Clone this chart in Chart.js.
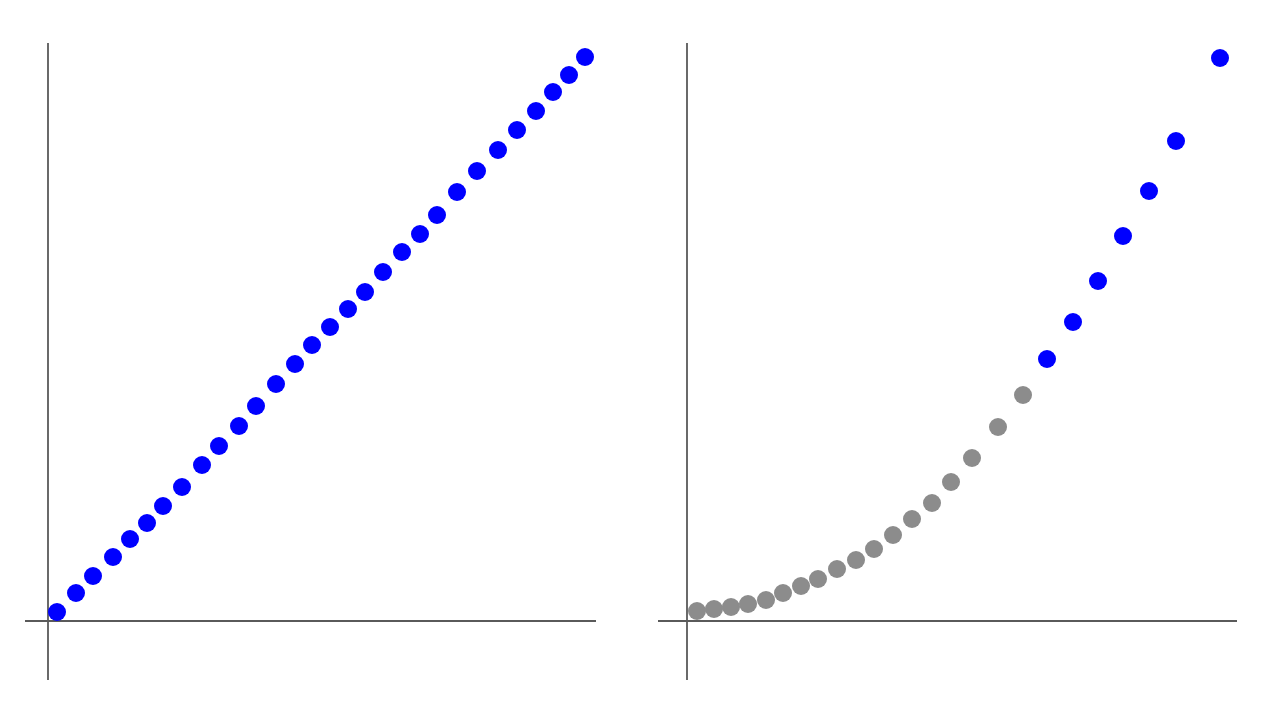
<!DOCTYPE html>
<html>
<head>
<meta charset="utf-8">
<script src="https://cdn.jsdelivr.net/npm/chart.js@4"></script>
<style>
  html, body { margin: 0; padding: 0; background: #ffffff; }
  body { width: 1280px; height: 720px; position: relative; overflow: hidden; }
  .wrap { position: absolute; }
  #w1 { left: 25px; top: 43px; width: 571px; height: 637px; }
  #w2 { left: 658px; top: 43px; width: 579px; height: 637px; }
</style>
</head>
<body>
<div class="wrap" id="w1"><canvas id="c1"></canvas></div>
<div class="wrap" id="w2"><canvas id="c2"></canvas></div>
<script>
// Left panel: linear series
const leftX = [9, 28, 45, 65, 82, 99, 115, 134, 154, 171, 191, 208, 228, 247, 264, 282, 300, 317, 335, 354, 372, 389, 409, 429, 450, 469, 488, 505, 521, 537];
const leftY = [9, 28, 45, 64, 82, 98, 115, 134, 156, 175, 195, 215, 237, 257, 276, 294, 312, 329, 349, 369, 387, 406, 429, 450, 471, 491, 510, 529, 546, 564];

// Right panel: curved series, grey part then blue part
const rightGreyX = [10, 27, 44, 61, 79, 96, 114, 131, 150, 169, 187, 206, 225, 245, 264, 285, 311, 336];
const rightGreyY = [10, 12, 14, 17, 21, 28, 35, 42, 52, 61, 72, 86, 102, 118, 139, 163, 194, 226];
const rightBlueX = [360, 386, 411, 436, 462, 489, 533];
const rightBlueY = [262, 299, 340, 385, 430, 480, 563];

// Axis ranges
const leftXRange = [-23, 548];
const rightXRange = [-29, 550];
const yRange = [-59, 578];

function pts(xs, ys) { return xs.map((x, i) => ({ x: x, y: ys[i] })); }

const originAxes = {
  id: 'originAxes',
  beforeDatasetsDraw(chart) {
    const { ctx, chartArea, scales } = chart;
    const x0 = scales.x.getPixelForValue(0);
    const y0 = scales.y.getPixelForValue(0);
    ctx.save();
    ctx.strokeStyle = '#5a5a5a';
    ctx.lineWidth = 1.8;
    ctx.beginPath();
    ctx.moveTo(x0, chartArea.top);
    ctx.lineTo(x0, chartArea.bottom);
    ctx.moveTo(chartArea.left, y0);
    ctx.lineTo(chartArea.right, y0);
    ctx.stroke();
    ctx.restore();
  }
};

function makeChart(id, datasets, xr) {
  return new Chart(document.getElementById(id), {
    type: 'scatter',
    data: { datasets: datasets },
    options: {
      responsive: true,
      maintainAspectRatio: false,
      animation: false,
      layout: { padding: 0, autoPadding: false },
      plugins: { legend: { display: false }, tooltip: { enabled: false } },
      scales: {
        x: { type: 'linear', min: xr[0], max: xr[1], display: false },
        y: { type: 'linear', min: yRange[0], max: yRange[1], display: false }
      }
    },
    plugins: [originAxes]
  });
}

makeChart('c1', [{
  data: pts(leftX, leftY),
  backgroundColor: '#0000ff', borderColor: '#0000ff', borderWidth: 0,
  pointRadius: 9, clip: false
}], leftXRange);

makeChart('c2', [{
  data: pts(rightGreyX, rightGreyY),
  backgroundColor: '#8c8c8c', borderColor: '#8c8c8c', borderWidth: 0,
  pointRadius: 9, clip: false
}, {
  data: pts(rightBlueX, rightBlueY),
  backgroundColor: '#0000ff', borderColor: '#0000ff', borderWidth: 0,
  pointRadius: 9, clip: false
}], rightXRange);
</script>
</body>
</html>
